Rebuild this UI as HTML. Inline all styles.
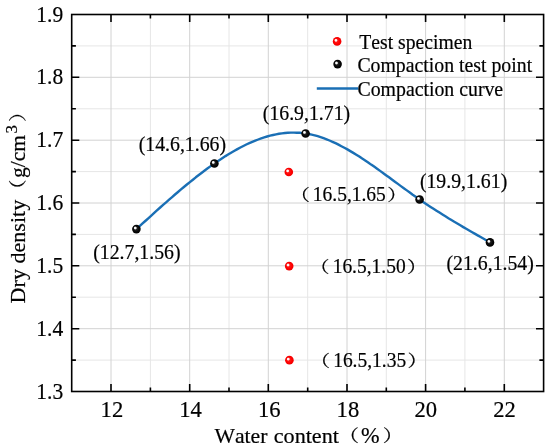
<!DOCTYPE html>
<html><head><meta charset="utf-8"><title>Compaction curve</title>
<style>
html,body{margin:0;padding:0;background:#fff;}
svg{display:block;}
text{font-family:"Liberation Serif","Noto Serif CJK SC",serif;fill:#000;font-kerning:none;stroke:#000;stroke-width:0.2px;}
</style></head><body>
<svg width="550" height="448" viewBox="0 0 550 448">
<defs>
<radialGradient id="hl" cx="0.5" cy="0.5" r="0.5">
<stop offset="0" stop-color="#fff" stop-opacity="1"/><stop offset="0.45" stop-color="#fff" stop-opacity="0.95"/><stop offset="1" stop-color="#fff" stop-opacity="0"/>
</radialGradient>
<radialGradient id="gk" cx="0.5" cy="0.5" r="0.5" fx="0.4" fy="0.4">
<stop offset="0" stop-color="#3a3a3a"/><stop offset="0.6" stop-color="#0a0a0a"/><stop offset="1" stop-color="#000"/>
</radialGradient>
<radialGradient id="gr" cx="0.5" cy="0.5" r="0.5" fx="0.4" fy="0.4">
<stop offset="0" stop-color="#ff2a2a"/><stop offset="0.7" stop-color="#ff0000"/><stop offset="1" stop-color="#ee0000"/>
</radialGradient>
</defs>
<rect width="550" height="448" fill="#fff"/>
<path d="M150.4,14.5V391.5M229.0,14.5V391.5M307.7,14.5V391.5M386.3,14.5V391.5M464.9,14.5V391.5M71.7,360.1H543.6M71.7,297.2H543.6M71.7,234.4H543.6M71.7,171.6H543.6M71.7,108.8H543.6M71.7,45.9H543.6" stroke="#e6e6e6" stroke-width="1" fill="none"/>
<path d="M111.0,14.5V391.5M189.7,14.5V391.5M268.3,14.5V391.5M347.0,14.5V391.5M425.6,14.5V391.5M504.3,14.5V391.5M71.7,328.7H543.6M71.7,265.8H543.6M71.7,203.0H543.6M71.7,140.2H543.6M71.7,77.3H543.6" stroke="#d2d2d2" stroke-width="1" fill="none"/>
<path d="M111.0,391.5v-7.6M111.0,14.5v7.6M150.4,391.5v-3.9M150.4,14.5v3.9M189.7,391.5v-7.6M189.7,14.5v7.6M229.0,391.5v-3.9M229.0,14.5v3.9M268.3,391.5v-7.6M268.3,14.5v7.6M307.7,391.5v-3.9M307.7,14.5v3.9M347.0,391.5v-7.6M347.0,14.5v7.6M386.3,391.5v-3.9M386.3,14.5v3.9M425.6,391.5v-7.6M425.6,14.5v7.6M464.9,391.5v-3.9M464.9,14.5v3.9M504.3,391.5v-7.6M504.3,14.5v7.6M71.7,360.1h4.2M543.6,360.1h-4.2M71.7,328.7h7.6M543.6,328.7h-7.6M71.7,297.2h4.2M543.6,297.2h-4.2M71.7,265.8h7.6M543.6,265.8h-7.6M71.7,234.4h4.2M543.6,234.4h-4.2M71.7,203.0h7.6M543.6,203.0h-7.6M71.7,171.6h4.2M543.6,171.6h-4.2M71.7,140.2h7.6M543.6,140.2h-7.6M71.7,108.8h4.2M543.6,108.8h-4.2M71.7,77.3h7.6M543.6,77.3h-7.6M71.7,45.9h4.2M543.6,45.9h-4.2" stroke="#000" stroke-width="1.6" fill="none"/>
<rect x="71.7" y="14.5" width="471.9" height="377.0" fill="none" stroke="#000" stroke-width="1.6"/>
<path d="M136.4,229.1 L139.4,226.4 L142.3,223.7 L145.3,221.0 L148.3,218.3 L151.3,215.6 L154.2,212.9 L157.2,210.2 L160.2,207.5 L163.1,204.9 L166.1,202.3 L169.1,199.7 L172.1,197.1 L175.0,194.5 L178.0,192.0 L181.0,189.4 L183.9,187.0 L186.9,184.5 L189.9,182.1 L192.9,179.7 L195.8,177.3 L198.8,175.0 L201.8,172.7 L204.7,170.5 L207.7,168.3 L210.7,166.1 L213.7,164.0 L216.6,162.0 L219.6,160.0 L222.6,158.0 L225.5,156.1 L228.5,154.3 L231.5,152.5 L234.5,150.8 L237.4,149.1 L240.4,147.5 L243.4,146.0 L246.3,144.5 L249.3,143.2 L252.3,141.9 L255.3,140.6 L258.2,139.5 L261.2,138.4 L264.2,137.4 L267.1,136.5 L270.1,135.7 L273.1,135.0 L276.1,134.4 L279.0,133.8 L282.0,133.4 L285.0,133.0 L287.9,132.8 L290.9,132.6 L293.9,132.6 L296.9,132.7 L299.8,132.8 L302.8,133.1 L305.8,133.5 L308.7,134.0 L311.7,134.7 L314.7,135.4 L317.7,136.2 L320.6,137.2 L323.6,138.2 L326.6,139.3 L329.5,140.5 L332.5,141.8 L335.5,143.2 L338.5,144.6 L341.4,146.2 L344.4,147.8 L347.4,149.4 L350.3,151.1 L353.3,152.9 L356.3,154.7 L359.3,156.6 L362.2,158.6 L365.2,160.5 L368.2,162.5 L371.1,164.6 L374.1,166.6 L377.1,168.7 L380.1,170.9 L383.0,173.0 L386.0,175.2 L389.0,177.3 L391.9,179.5 L394.9,181.7 L397.9,183.9 L400.9,186.1 L403.8,188.2 L406.8,190.4 L409.8,192.5 L412.7,194.7 L415.7,196.8 L418.7,198.9 L421.7,200.9 L424.6,202.9 L427.6,204.9 L430.6,206.9 L433.5,208.8 L436.5,210.7 L439.5,212.6 L442.5,214.5 L445.4,216.3 L448.4,218.2 L451.4,220.0 L454.3,221.8 L457.3,223.5 L460.3,225.3 L463.3,227.1 L466.2,228.8 L469.2,230.5 L472.2,232.2 L475.1,233.9 L478.1,235.6 L481.1,237.3 L484.1,239.0 L487.0,240.7 L490.0,242.4" stroke="#1a6fb5" stroke-width="2.4" fill="none" stroke-linecap="round" stroke-linejoin="round"/>
<path d="M316.8,88.5H358.2" stroke="#1a6fb5" stroke-width="2.4" fill="none"/>
<ellipse cx="136.4" cy="229.1" rx="4.3" ry="4.35" fill="url(#gk)"/><circle cx="135.25" cy="228.00" r="1.9" fill="url(#hl)"/><ellipse cx="214.4" cy="163.5" rx="4.3" ry="4.35" fill="url(#gk)"/><circle cx="213.25" cy="162.40" r="1.9" fill="url(#hl)"/><ellipse cx="305.6" cy="133.5" rx="4.3" ry="4.35" fill="url(#gk)"/><circle cx="304.45" cy="132.40" r="1.9" fill="url(#hl)"/><ellipse cx="419.6" cy="199.5" rx="4.3" ry="4.35" fill="url(#gk)"/><circle cx="418.45" cy="198.40" r="1.9" fill="url(#hl)"/><ellipse cx="490.0" cy="242.4" rx="4.3" ry="4.35" fill="url(#gk)"/><circle cx="488.85" cy="241.30" r="1.9" fill="url(#hl)"/><ellipse cx="337.6" cy="64.1" rx="4.3" ry="4.35" fill="url(#gk)"/><circle cx="336.45" cy="63.00" r="1.9" fill="url(#hl)"/>
<ellipse cx="288.8" cy="172.0" rx="4.3" ry="4.35" fill="url(#gr)"/><circle cx="287.65" cy="170.90" r="1.9" fill="url(#hl)"/><ellipse cx="289.2" cy="266.1" rx="4.3" ry="4.35" fill="url(#gr)"/><circle cx="288.05" cy="265.00" r="1.9" fill="url(#hl)"/><ellipse cx="289.4" cy="360.2" rx="4.3" ry="4.35" fill="url(#gr)"/><circle cx="288.25" cy="359.10" r="1.9" fill="url(#hl)"/><ellipse cx="337.1" cy="41.4" rx="4.3" ry="4.35" fill="url(#gr)"/><circle cx="335.95" cy="40.30" r="1.9" fill="url(#hl)"/>
<text transform="translate(63.2,398.5) scale(0.936,1)" font-size="23" text-anchor="end">1.3</text>
<text transform="translate(63.2,335.7) scale(0.936,1)" font-size="23" text-anchor="end">1.4</text>
<text transform="translate(63.2,272.8) scale(0.936,1)" font-size="23" text-anchor="end">1.5</text>
<text transform="translate(63.2,210.0) scale(0.936,1)" font-size="23" text-anchor="end">1.6</text>
<text transform="translate(63.2,147.2) scale(0.936,1)" font-size="23" text-anchor="end">1.7</text>
<text transform="translate(63.2,84.3) scale(0.936,1)" font-size="23" text-anchor="end">1.8</text>
<text transform="translate(63.2,21.5) scale(0.936,1)" font-size="23" text-anchor="end">1.9</text>
<text transform="translate(111.9,417.1) scale(0.975,1)" font-size="23.2" text-anchor="middle">12</text>
<text transform="translate(190.6,417.1) scale(0.975,1)" font-size="23.2" text-anchor="middle">14</text>
<text transform="translate(269.2,417.1) scale(0.975,1)" font-size="23.2" text-anchor="middle">16</text>
<text transform="translate(347.9,417.1) scale(0.975,1)" font-size="23.2" text-anchor="middle">18</text>
<text transform="translate(425.8,417.1) scale(0.975,1)" font-size="23.2" text-anchor="middle">20</text>
<text transform="translate(504.5,417.1) scale(0.975,1)" font-size="23.2" text-anchor="middle">22</text>
<text transform="translate(214.4,442.7) scale(1.01,1)" font-size="21.5">Water</text>
<text transform="translate(273.75,442.7) scale(1.03,1)" font-size="21.5">content</text>
<text transform="translate(338.56,442.08) scale(1.23,1)" font-size="16.68" font-family="Noto Serif CJK SC,serif">（</text>
<text transform="translate(361.0,443.2) scale(1.0,1)" font-size="22.3">%</text>
<text transform="translate(382.77,442.08) scale(1.23,1)" font-size="16.68" font-family="Noto Serif CJK SC,serif">）</text>
<g transform="translate(24.6,303.4) scale(0.94,1) rotate(-90)"><text transform="scale(1.027,1)" font-size="21.5">Dry density</text><text x="125.5" font-size="21.5">g/cm</text><text x="169.8" y="-8.3" font-size="17">3</text><text transform="translate(103.7,-0.8) scale(1.08,1)" font-size="18.8" font-family="Noto Serif CJK SC,serif">（</text><text transform="translate(181.4,-0.8) scale(1.08,1)" font-size="18.8" font-family="Noto Serif CJK SC,serif">）</text></g>
<text transform="translate(359.3,48.5) scale(0.955,1)" font-size="20.6">Test specimen</text>
<text transform="translate(357.4,71.5) scale(0.961,1)" font-size="20.6">Compaction test point</text>
<text transform="translate(357.5,95.9) scale(0.962,1)" font-size="20.6">Compaction curve</text>
<text transform="translate(138.7,151.0) scale(0.96,1)" font-size="20.6">(14.6,1.66)</text>
<text transform="translate(93.2,258.5) scale(0.96,1)" font-size="20.6">(12.7,1.56)</text>
<text transform="translate(262.8,120) scale(0.96,1)" font-size="20.6">(16.9,1.71)</text>
<text transform="translate(419.9,187.6) scale(0.96,1)" font-size="20.6">(19.9,1.61)</text>
<text transform="translate(446.5,269.7) scale(0.96,1)" font-size="20.6">(21.6,1.54)</text>
<text transform="translate(290.16,199.75) scale(1.23,1)" font-size="15.94" font-family="Noto Serif CJK SC,serif">（</text>
<text transform="translate(312.85,200.5) scale(0.945,1)" font-size="20.6">16.5,1.65</text>
<text transform="translate(387.21,199.93) scale(1.23,1)" font-size="16.15" font-family="Noto Serif CJK SC,serif">）</text>
<text transform="translate(309.77,271.94) scale(1.23,1)" font-size="16.04" font-family="Noto Serif CJK SC,serif">（</text>
<text transform="translate(332.65,272.8) scale(0.945,1)" font-size="20.6">16.5,1.50</text>
<text transform="translate(407.00,272.12) scale(1.23,1)" font-size="16.26" font-family="Noto Serif CJK SC,serif">）</text>
<text transform="translate(310.19,366.23) scale(1.23,1)" font-size="16.15" font-family="Noto Serif CJK SC,serif">（</text>
<text transform="translate(333.15,367.1) scale(0.945,1)" font-size="20.6">16.5,1.35</text>
<text transform="translate(407.49,366.41) scale(1.23,1)" font-size="16.36" font-family="Noto Serif CJK SC,serif">）</text>
</svg></body></html>
